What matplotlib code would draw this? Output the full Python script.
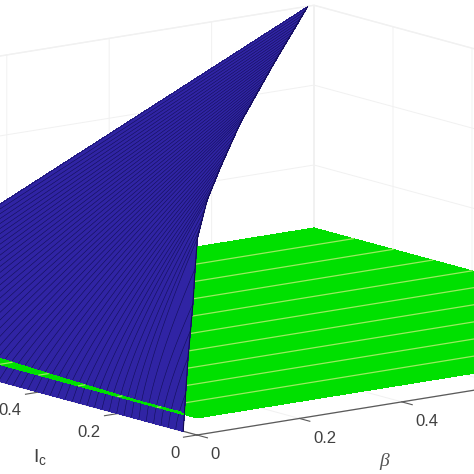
import numpy as np
import matplotlib
matplotlib.use("Agg")
import matplotlib.pyplot as plt
from mpl_toolkits.mplot3d import proj3d

plt.rcParams['font.family'] = ['Liberation Sans', 'DejaVu Sans']

# values
ic_ridge = [0.035, 0.07, 0.112, 0.143, 0.22, 0.32, 0.474, 0.736, 1.0]
beta_ridge = [0.0, 0.036, 0.079, 0.11, 0.189, 0.292, 0.45, 0.718, 0.99]
z_ridge = [0.0, 0.80, 1.45, 2.13, 2.44, 2.61, 2.80, 2.92, 3.02]
ic_bend = [0.035, 0.22, 0.5, 1.0]
rib_bend = [0.70, 0.77, 0.87, 1.0]
green_level = 0.2125
green_lines_ic = [0.1, 0.2, 0.3, 0.4, 0.5, 0.6, 0.7, 0.8, 0.9]
xy_ticks = [0, 0.2, 0.4, 0.6, 0.8, 1.0]
xy_ticklabels = ['0', '0.2', '0.4', '0.6', '0.8', '1']
z_ticks = [0, 1, 2, 3]

BLUE = '#3024a4'
GREEN = '#00e000'
PALE = '#9bea60'
INK = '#404040'

PX = 474
fig = plt.figure(figsize=(PX / 100, PX / 100), dpi=100)
ax = fig.add_axes([0, 0, 1, 1], projection='3d', proj_type='ortho')
ax.computed_zorder = False
ax.set_box_aspect((1, 1, 0.379))
ax.view_init(elev=12.1, azim=-127.65)
ax.set_xlim(0, 1, view_margin=0)
ax.set_ylim(0, 1, view_margin=0)
ax.set_zlim(0, 3, view_margin=0)


def to_px(x, y, z):
    a, b, _ = proj3d.proj_transform(x, y, z, ax.get_proj())
    return ax.transData.transform((a, b))


# Cropped view: the axes box is far larger than the figure
ax.apply_aspect()
p0 = to_px(1, 0, 0)
p1 = to_px(0, 1, 0)
scale = 907.0 / abs(p0[0] - p1[0])
ax.set_position([0.5 - scale / 2, 0.5 - scale / 2, scale, scale])
ax.apply_aspect()
o = to_px(0, 0, 0)
dx, dy = (197 - o[0]) / PX, ((PX - 435) - o[1]) / PX
ax.set_position([0.5 - scale / 2 + dx, 0.5 - scale / 2 + dy, scale, scale])

# Axes styling
for axis in (ax.xaxis, ax.yaxis, ax.zaxis):
    axis.set_pane_color((1, 1, 1, 1))
    axis.pane.set_edgecolor('#f1f1f1')
    axis.line.set_color('#5a5a5a')
    axis.line.set_linewidth(0.9)
    axis._axinfo['grid'].update(color='#f1f1f1', linewidth=0.7)
    axis._axinfo['tick'].update(inward_factor=0.0, outward_factor=-0.33)
ax.set_xticks(xy_ticks, xy_ticklabels, ha='left')
ax.set_yticks(xy_ticks, xy_ticklabels, ha='right')
ax.set_zticks(z_ticks, ['', '', '', ''])
ax.tick_params(axis='both', labelsize=12, labelcolor=INK, color='#5a5a5a', width=0.8)
ax.tick_params(axis='x', pad=4.0)
ax.tick_params(axis='y', pad=4.0)

# Green plane
bb = np.array([[0.0, 1.0], [0.0, 1.0]])
ii = np.array([[0.0, 0.0], [1.0, 1.0]])
ax.plot_surface(bb, ii, np.full((2, 2), green_level), color=GREEN, shade=False,
                linewidth=0, antialiased=False, zorder=1)
for v in green_lines_ic:
    ax.plot([0, 1], [v, v], [green_level, green_level], color=PALE, lw=0.9, zorder=2)

# Blue surface: ribs of constant Ic rising from beta = 0 to the ridge
ic = np.arange(0.035, 1.0001, 0.0187)
beta_end = np.interp(ic, ic_ridge, beta_ridge)
z_end = np.interp(ic, ic_ridge, z_ridge)
bend = np.interp(ic, ic_bend, rib_bend)
t = np.linspace(0.0, 1.0, 30)
X = np.outer(beta_end, t)
Y = np.outer(ic, np.ones_like(t))
Z = z_end[:, None] * t[None, :] ** bend[:, None]
ax.plot_surface(X, Y, Z, rstride=1, cstride=1, color=BLUE, edgecolor=BLUE, shade=False,
                linewidth=0.2, antialiased=False, zorder=3)
ax.plot_wireframe(X, Y, Z, rstride=1, cstride=0, color='#13105a', linewidth=0.42, zorder=4)
ax.plot(beta_end, ic, z_end, color='#120c50', lw=0.8, zorder=4)

# Part of the green plane that lies above the blue surface, near beta = 0
frac = np.where(z_end > green_level, (green_level / np.maximum(z_end, 1e-6)) ** (1 / bend), 1.0)
beta_cut = beta_end * frac
Xs = np.column_stack([np.zeros_like(ic), beta_cut])
Ys = np.column_stack([ic, ic])
Zs = np.full_like(Xs, green_level)
ax.plot_surface(Xs, Ys, Zs, rstride=1, cstride=1, color=GREEN, edgecolor=GREEN, shade=False,
                linewidth=0.2, antialiased=False, zorder=5)
for v in green_lines_ic:
    ax.plot([0, np.interp(v, ic, beta_cut)], [v, v], [green_level, green_level],
            color=PALE, lw=0.9, zorder=6)

# Axis titles
ax.text(0.365, 0, -0.71, 'β', family='Liberation Serif', style='italic', fontsize=14,
        color='#555555', ha='center', va='center')
ax.text(0, 0.398, -0.825, r'I$_{\mathregular{c}}$', fontsize=14,
        color=INK, ha='center', va='center')

fig.savefig('out.png', dpi=100)
